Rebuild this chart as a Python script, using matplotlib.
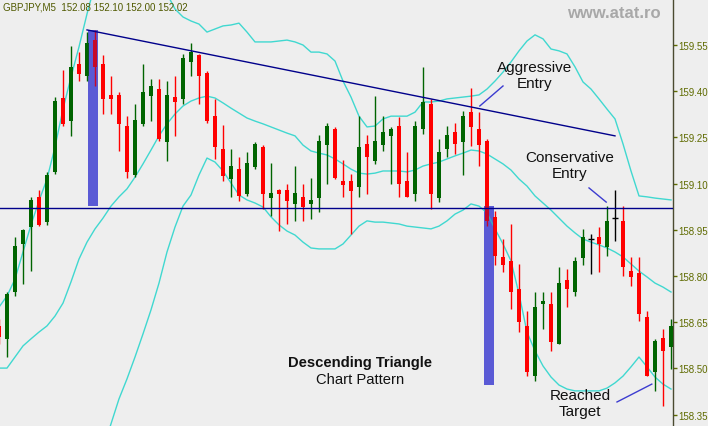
import matplotlib
matplotlib.use("Agg")
import matplotlib.pyplot as plt

# GBPJPY M5 candles; index 0 is the one cut by the left edge
opens = [158.638, 158.596, 158.748, 158.904, 158.959, 159.057, 158.975, 159.138, 159.378, 159.303,
         159.488, 159.449, 159.566, 159.488, 159.388, 159.388, 159.287, 159.128, 159.294, 159.384,
         159.407, 159.235, 159.381, 159.375, 159.495, 159.518, 159.459, 159.319, 159.212, 159.115,
         159.147, 159.066, 159.154, 159.219, 159.053, 159.079, 159.079, 159.034, 159.057, 159.034,
         159.053, 159.225, 159.277, 159.108, 159.108, 159.089, 159.229, 159.173, 159.225, 159.255,
         159.287, 159.108, 159.066, 159.277, 159.358, 159.053, 159.212, 159.268, 159.235, 159.332,
         159.277, 159.238, 158.992, 158.862, 158.849, 158.758, 158.638, 158.475, 158.709, 158.709,
         158.579, 158.787, 158.748, 158.858, 158.920, 158.927, 158.894, 158.988, 158.979, 158.816,
         158.810, 158.667, 158.488, 158.599, 158.570]
highs = [158.660, 158.748, 158.927, 158.953, 159.057, 159.079, 159.138, 159.381, 159.469, 159.547,
         159.527, 159.592, 159.599, 159.518, 159.449, 159.397, 159.319, 159.358, 159.488, 159.440,
         159.440, 159.433, 159.449, 159.521, 159.557, 159.521, 159.466, 159.375, 159.290, 159.212,
         159.186, 159.203, 159.235, 159.225, 159.167, 159.083, 159.099, 159.157, 159.099, 159.118,
         159.258, 159.297, 159.284, 159.177, 159.131, 159.319, 159.258, 159.384, 159.319, 159.284,
         159.316, 159.203, 159.303, 159.479, 159.375, 159.245, 159.287, 159.297, 159.336, 159.410,
         159.332, 159.245, 159.011, 158.920, 158.969, 158.839, 158.686, 158.748, 158.748, 158.748,
         158.829, 158.823, 158.862, 158.953, 158.936, 158.959, 159.027, 159.079, 159.027, 158.862,
         158.862, 158.686, 158.596, 158.628, 158.660]
lows = [158.579, 158.537, 158.735, 158.774, 158.816, 158.962, 158.966, 159.131, 159.287, 159.255,
        159.433, 159.433, 159.417, 159.326, 159.326, 159.206, 159.118, 159.121, 159.287, 159.303,
        159.238, 159.173, 159.255, 159.358, 159.449, 159.358, 159.297, 159.180, 159.108, 159.057,
        159.044, 159.060, 159.147, 159.018, 158.995, 158.946, 158.969, 158.979, 158.979, 158.985,
        159.008, 159.099, 159.115, 159.057, 158.936, 159.057, 159.066, 159.164, 159.206, 159.099,
        159.057, 159.057, 159.044, 159.261, 159.018, 159.040, 159.186, 159.196, 159.128, 159.222,
        159.157, 158.962, 158.836, 158.813, 158.693, 158.618, 158.475, 158.459, 158.628, 158.557,
        158.579, 158.699, 158.735, 158.836, 158.807, 158.813, 158.865, 158.914, 158.800, 158.768,
        158.654, 158.475, 158.427, 158.378, 158.498]
closes = [158.602, 158.742, 158.897, 158.949, 159.047, 158.966, 159.128, 159.368, 159.294, 159.479,
          159.456, 159.557, 159.479, 159.375, 159.375, 159.294, 159.138, 159.307, 159.397, 159.417,
          159.245, 159.388, 159.365, 159.508, 159.527, 159.449, 159.303, 159.219, 159.125, 159.157,
          159.060, 159.167, 159.229, 159.066, 159.070, 159.066, 159.044, 159.070, 159.024, 159.047,
          159.238, 159.287, 159.118, 159.095, 159.076, 159.219, 159.186, 159.238, 159.268, 159.277,
          159.099, 159.057, 159.287, 159.365, 159.066, 159.203, 159.258, 159.229, 159.319, 159.284,
          159.225, 158.979, 158.865, 158.836, 158.748, 158.651, 158.488, 158.699, 158.719, 158.586,
          158.777, 158.758, 158.849, 158.927, 158.920, 158.904, 158.979, 158.988, 158.829, 158.797,
          158.677, 158.475, 158.589, 158.557, 158.638]

# Bollinger bands (values per candle, upper band leaves the top for a while)
bb_upper = [158.699, 158.735, 158.790, 158.878, 158.966, 159.044, 159.115, 159.219, 159.342, 159.446,
            159.544, 159.651, 159.748, 159.813, 159.862, 159.888, 159.894, 159.878, 159.846, 159.803,
            159.758, 159.716, 159.667, 159.641, 159.628, 159.618, 159.592, 159.602, 159.612, 159.615,
            159.621, 159.592, 159.560, 159.560, 159.560, 159.563, 159.566, 159.560, 159.550, 159.527,
            159.527, 159.521, 159.498, 159.433, 159.381, 159.319, 159.284, 159.287, 159.310, 159.319,
            159.319, 159.319, 159.332, 159.365, 159.365, 159.368, 159.375, 159.378, 159.381, 159.384,
            159.388, 159.407, 159.433, 159.462, 159.495, 159.531, 159.563, 159.583, 159.570, 159.537,
            159.531, 159.521, 159.479, 159.430, 159.407, 159.375, 159.342, 159.310, 159.229, 159.141,
            159.060, 159.057, 159.053, 159.050, 159.047]
bb_mid = [158.501, 158.501, 158.537, 158.573, 158.596, 158.618, 158.638, 158.670, 158.712, 158.781,
          158.855, 158.910, 158.953, 158.988, 159.027, 159.057, 159.083, 159.121, 159.164, 159.209,
          159.255, 159.294, 159.326, 159.352, 159.368, 159.378, 159.384, 159.378, 159.362, 159.345,
          159.329, 159.313, 159.303, 159.294, 159.284, 159.274, 159.264, 159.255, 159.225, 159.206,
          159.199, 159.193, 159.180, 159.164, 159.147, 159.134, 159.131, 159.134, 159.141, 159.141,
          159.141, 159.138, 159.144, 159.157, 159.164, 159.170, 159.180, 159.190, 159.199, 159.209,
          159.206, 159.196, 159.180, 159.164, 159.144, 159.115, 159.092, 159.060, 159.037, 159.014,
          158.988, 158.962, 158.940, 158.920, 158.910, 158.901, 158.891, 158.878, 158.862, 158.839,
          158.816, 158.797, 158.777, 158.764, 158.748]
lower_first = 10
bb_lower = [158.060, 158.108, 158.173, 158.238, 158.320, 158.401, 158.466, 158.537, 158.612, 158.690,
            158.777, 158.878, 158.959, 159.027, 159.063, 159.128, 159.183, 159.170, 159.141, 159.102,
            159.063, 159.047, 159.037, 159.024, 158.992, 158.966, 158.946, 158.933, 158.910, 158.891,
            158.888, 158.888, 158.888, 158.904, 158.933, 158.962, 158.979, 158.975, 158.975, 158.972,
            158.969, 158.962, 158.959, 158.956, 158.953, 158.962, 158.979, 159.001, 159.014, 159.034,
            159.027, 159.005, 158.953, 158.904, 158.849, 158.742, 158.618, 158.557, 158.508, 158.472,
            158.446, 158.433, 158.427, 158.427, 158.427, 158.427, 158.436, 158.453, 158.475, 158.505,
            158.537, 158.505, 158.472, 158.449, 158.433]

price_ticks = [159.55, 159.40, 159.25, 159.10, 158.95, 158.80, 158.65, 158.50, 158.35]
support = 159.021
top_line = [(11.0, 159.599), (77.0, 159.255)]
height_bars = [(11.75, 159.027, 159.599), (61.25, 158.446, 159.027)]

BG = '#eeeeee'
GREEN = '#006400'
RED = '#ff0000'
NAVY = '#00008b'
CYAN = '#40d8d0'
OLIVE = '#5f6b00'

plt.rcParams['font.family'] = ['Liberation Sans', 'DejaVu Sans']

W, H = 708, 427
fig = plt.figure(figsize=(W / 100, H / 100), dpi=100, facecolor=BG)
ax = fig.add_axes([0, 0, 673 / W, 1])
ax.set_facecolor(BG)
ax.set_xlim(0.125, 84.25)
ax.set_ylim(158.313, 159.6994)

# bollinger bands
xs = list(range(len(bb_mid)))
ax.plot(xs, bb_upper, color=CYAN, lw=1, zorder=2)
ax.plot(xs, bb_mid, color=CYAN, lw=1, zorder=2)
ax.plot(range(lower_first, lower_first + len(bb_lower)), bb_lower, color=CYAN, lw=1, zorder=2)

# blue bars showing the triangle height
for xc, lo, hi in height_bars:
    ax.bar(xc, hi - lo, bottom=lo, width=1.3, color='#6e6ee8', lw=0, zorder=1)

# candles
for i in range(len(opens)):
    o, h, l, c = opens[i], highs[i], lows[i], closes[i]
    col = GREEN if c > o else (RED if c < o else 'black')
    ax.vlines(i, l, h, color=col, lw=1, zorder=3)
    if c == o:
        ax.hlines(o, i - 0.35, i + 0.35, color=col, lw=1, zorder=3)
    else:
        ax.bar(i, c - o, bottom=o, width=0.62, color=col, lw=0, zorder=3)

# the two darker candles inside the bars
for xc, lo, hi in height_bars:
    ax.bar(xc, hi - lo, bottom=lo, width=1.3, color='#2020a0', alpha=0.25, lw=0, zorder=4)

# pattern lines
ax.axhline(support, color=NAVY, lw=1, zorder=5)
ax.plot([p[0] for p in top_line], [p[1] for p in top_line], color=NAVY, lw=1, zorder=5)

# pointers
ax.plot([60.1, 63.0], [159.352, 159.417], color='#3c3cd0', lw=1, zorder=5)
ax.plot([73.75, 75.9], [159.086, 159.040], color='#3c3cd0', lw=1, zorder=5)
ax.plot([77.25, 81.6], [158.391, 158.449], color='#3c3cd0', lw=1, zorder=5)

# right price scale
for s in ['top', 'left', 'bottom']:
    ax.spines[s].set_visible(False)
ax.spines['right'].set_color('#4a4a30')
ax.spines['right'].set_linewidth(1)
ax.set_xticks([])
ax.yaxis.tick_right()
ax.set_yticks(price_ticks)
ax.set_yticklabels(['%.2f' % t for t in price_ticks])
ax.tick_params(axis='y', direction='out', length=3, width=1, color=OLIVE,
               labelcolor=OLIVE, labelsize=7, pad=1)

# texts
fig.text(3 / W, 1 - 7 / H, 'GBPJPY,M5  152.08 152.10 152.00 152.02', fontsize=7,
         color='#505a00', va='center', ha='left')
fig.text(614 / W, 1 - 14 / H, 'www.atat.ro', fontsize=12, fontweight='bold',
         color='#a8a8a8', va='center', ha='center')
fig.text(535 / W, 1 - 76 / H, 'Aggressive\nEntry', fontsize=11, color='#111111',
         va='center', ha='center', linespacing=1.15)
fig.text(570 / W, 1 - 166 / H, 'Conservative\nEntry', fontsize=11, color='#111111',
         va='center', ha='center', linespacing=1.15)
fig.text(580 / W, 1 - 404 / H, 'Reached\nTarget', fontsize=11, color='#111111',
         va='center', ha='center', linespacing=1.15)
fig.text(360 / W, 1 - 363 / H, 'Descending Triangle', fontsize=10.6, fontweight='bold',
         color='#111111', va='center', ha='center')
fig.text(360 / W, 1 - 380 / H, 'Chart Pattern', fontsize=10.6, color='#111111',
         va='center', ha='center')

fig.savefig('out.png', dpi=100, facecolor=BG)
